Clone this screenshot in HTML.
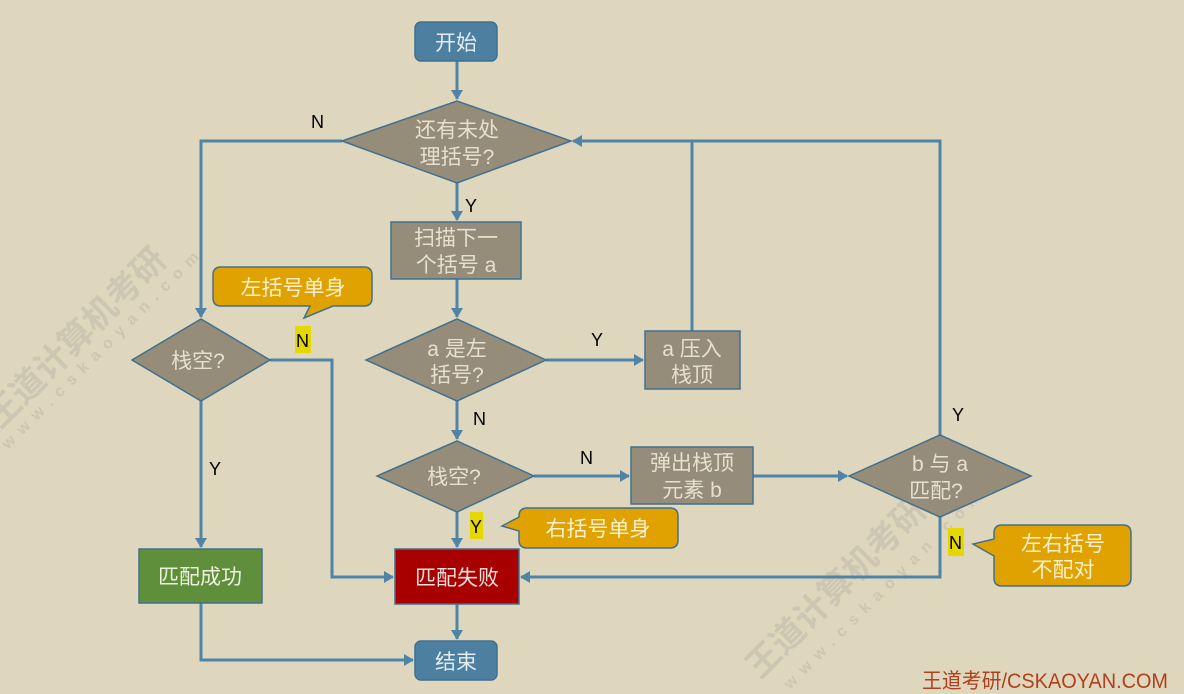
<!DOCTYPE html>
<html><head><meta charset="utf-8"><style>
html,body{margin:0;padding:0;background:#dfd7bd;}
svg{display:block;}
text{font-family:"Liberation Sans","Noto Sans CJK SC",sans-serif;}
</style></head><body>
<svg width="1184" height="694" viewBox="0 0 1184 694" xmlns="http://www.w3.org/2000/svg">
<defs>
<marker id="a" markerWidth="12" markerHeight="12" refX="9" refY="6" orient="auto" markerUnits="userSpaceOnUse">
<path d="M0,0 L10,6 L0,12 Z" fill="#4f84a6"/></marker>
</defs>
<rect width="1184" height="694" fill="#dfd7bd"/>
<g fill="#cdc6b2" font-weight="bold">
<text x="0" y="0" font-size="34" transform="translate(0,430) rotate(-45)">王道计算机考研</text>
<text x="0" y="0" font-size="16" letter-spacing="8" transform="translate(8,450) rotate(-45)">www.cskaoyan.com</text>
<text x="0" y="0" font-size="34" transform="translate(760,680) rotate(-45)">王道计算机考研</text>
<text x="0" y="0" font-size="16" letter-spacing="8" transform="translate(790,690) rotate(-45)">www.cskaoyan.com</text>
</g>
<g stroke="#4f84a6" stroke-width="3" fill="none">
<line x1="457" y1="61" x2="457" y2="99" marker-end="url(#a)"/>
<line x1="457" y1="183" x2="457" y2="220" marker-end="url(#a)"/>
<line x1="457" y1="279" x2="457" y2="317" marker-end="url(#a)"/>
<line x1="546" y1="360" x2="643" y2="360" marker-end="url(#a)"/>
<polyline points="692,331 692,141"/>
<polyline points="940,435 940,141 573,141" marker-end="url(#a)"/>
<line x1="457" y1="401" x2="457" y2="439" marker-end="url(#a)"/>
<line x1="534" y1="476" x2="629" y2="476" marker-end="url(#a)"/>
<line x1="753" y1="476" x2="847" y2="476" marker-end="url(#a)"/>
<polyline points="940,517 940,577 521,577" marker-end="url(#a)"/>
<line x1="457" y1="512" x2="457" y2="547" marker-end="url(#a)"/>
<line x1="457" y1="604" x2="457" y2="639" marker-end="url(#a)"/>
<polyline points="342,141 201,141 201,317" marker-end="url(#a)"/>
<polyline points="270,360 332,360 332,577 393,577" marker-end="url(#a)"/>
<line x1="201" y1="401" x2="201" y2="547" marker-end="url(#a)"/>
<polyline points="201,603 201,660 413,660" marker-end="url(#a)"/>
</g>
<g stroke="#41708f" stroke-width="1.5">
<rect x="415" y="22" width="82" height="39" rx="6" fill="#4d7fa0"/>
<rect x="415" y="641" width="82" height="39" rx="6" fill="#4d7fa0"/>
<polygon points="342,141 457,101 571,141 457,183" fill="#968c7a"/>
<rect x="391" y="222" width="130" height="57" fill="#968c7a"/>
<polygon points="366,360 457,319 546,360 457,401" fill="#968c7a"/>
<rect x="645" y="331" width="95" height="58" fill="#968c7a"/>
<polygon points="377,476 457,441 534,476 457,512" fill="#968c7a"/>
<rect x="631" y="447" width="122" height="57" fill="#968c7a"/>
<polygon points="849,476 940,435 1031,476 940,517" fill="#968c7a"/>
<polygon points="132,360 201,319 270,360 201,401" fill="#968c7a"/>
<rect x="395" y="549" width="124" height="55" fill="#a80000"/>
<rect x="139" y="549" width="123" height="54" fill="#5f8f3a"/>
<path d="M221,267 H364 Q372,267 372,275 V298 Q372,306 364,306 H333 L304,318 L310,306 H221 Q213,306 213,298 V275 Q213,267 221,267 Z" fill="#e0a200"/>
<path d="M527,508 H670 Q678,508 678,516 V540 Q678,548 670,548 H527 Q519,548 519,540 V531 L502,526 L519,517 V516 Q519,508 527,508 Z" fill="#e0a200"/>
<path d="M1002,525 H1123 Q1131,525 1131,533 V578 Q1131,586 1123,586 H1002 Q994,586 994,578 V556 L973,544 L994,539 V533 Q994,525 1002,525 Z" fill="#e0a200"/>
</g>
<g fill="#e6e0d0" font-size="21" text-anchor="middle">
<text x="456" y="50" fill="#e4ecf0">开始</text>
<text x="456" y="669" fill="#e4ecf0">结束</text>
<text x="457" y="137">还有未处</text>
<text x="457" y="164">理括号?</text>
<text x="456" y="245">扫描下一</text>
<text x="456" y="272">个括号 a</text>
<text x="457" y="356">a 是左</text>
<text x="457" y="382">括号?</text>
<text x="692" y="356">a 压入</text>
<text x="692" y="382">栈顶</text>
<text x="454" y="484">栈空?</text>
<text x="692" y="470">弹出栈顶</text>
<text x="692" y="497">元素 b</text>
<text x="940" y="471">b 与 a</text>
<text x="936" y="498">匹配?</text>
<text x="198" y="368">栈空?</text>
<text x="457" y="585" fill="#f0e0e0">匹配失败</text>
<text x="200" y="584" fill="#eef0e0">匹配成功</text>
<text x="293" y="295" fill="#fbf1d0">左括号单身</text>
<text x="598" y="536" fill="#fbf1d0">右括号单身</text>
<text x="1063" y="551" fill="#fbf1d0">左右括号</text>
<text x="1063" y="577" fill="#fbf1d0">不配对</text>
</g>
<g font-size="18" fill="#000">
<text x="311" y="128">N</text>
<text x="465" y="212">Y</text>
<text x="591" y="346">Y</text>
<text x="473" y="425">N</text>
<text x="580" y="464">N</text>
<text x="952" y="421">Y</text>
<text x="209" y="475">Y</text>
</g>
<rect x="295" y="326" width="16" height="27" fill="#e4d800"/>
<rect x="470" y="512" width="13" height="27" fill="#e4d800"/>
<rect x="948" y="528" width="16" height="28" fill="#e4d800"/>
<g font-size="18" fill="#000">
<text x="296" y="347">N</text>
<text x="470" y="533">Y</text>
<text x="949" y="549">N</text>
</g>
<text x="922" y="688" font-size="21" fill="#b0401e" textLength="246" lengthAdjust="spacingAndGlyphs">王道考研/CSKAOYAN.COM</text>
</svg>
</body></html>
